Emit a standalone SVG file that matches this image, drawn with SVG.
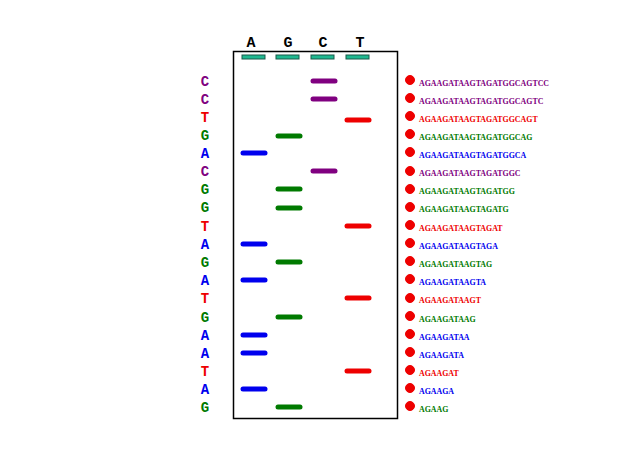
<svg xmlns="http://www.w3.org/2000/svg" width="638" height="452" viewBox="0 0 638 452">
<style>
.h{font-family:"Liberation Mono",monospace;font-weight:bold;font-size:15px;text-anchor:middle}
.l{font-family:"Liberation Mono",monospace;font-weight:bold;font-size:14px;text-anchor:middle}
.s{font-family:"Liberation Serif",serif;font-weight:bold;font-size:7.9px}
.w{fill:#20b890;stroke:#1a5a4a;stroke-width:1}
.b{stroke-width:5;stroke-linecap:round}
.A{fill:#0000ee;stroke:#0000ee}.G{fill:#007a00;stroke:#007a00}.C{fill:#800080;stroke:#800080}.T{fill:#ee0000;stroke:#ee0000}
text.A,text.G,text.C,text.T{stroke:none}
</style>
<rect width="638" height="452" fill="#fff"/>
<g id="gel">
<rect x="233.5" y="51.5" width="164" height="367" fill="none" stroke="#000" stroke-width="1.5"/>
<text class="h" x="251" y="47">A</text><text class="h" x="288" y="47">G</text><text class="h" x="323" y="47">C</text><text class="h" x="360" y="47">T</text>
<rect class="w" x="242" y="55" width="23" height="4"/><rect class="w" x="276" y="55" width="23" height="4"/><rect class="w" x="311" y="55" width="23" height="4"/><rect class="w" x="346" y="55" width="23" height="4"/>
</g>
<g id="rows">
<g id="r1"><text class="l C" x="205" y="86">C</text><line class="b C" x1="313" y1="81" x2="335" y2="81"/><circle class="T" cx="410" cy="80" r="4.5"/><text class="s C" x="419" y="86">AGAAGATAAGTAGATGGCAGTCC</text></g>
<g id="r2"><text class="l C" x="205" y="104">C</text><line class="b C" x1="313" y1="99" x2="335" y2="99"/><circle class="T" cx="410" cy="98" r="4.5"/><text class="s C" x="419" y="104">AGAAGATAAGTAGATGGCAGTC</text></g>
<g id="r3"><text class="l T" x="205" y="122">T</text><line class="b T" x1="347" y1="120" x2="369" y2="120"/><circle class="T" cx="410" cy="116" r="4.5"/><text class="s T" x="419" y="122">AGAAGATAAGTAGATGGCAGT</text></g>
<g id="r4"><text class="l G" x="205" y="140">G</text><line class="b G" x1="278" y1="136" x2="300" y2="136"/><circle class="T" cx="410" cy="134" r="4.5"/><text class="s G" x="419" y="140">AGAAGATAAGTAGATGGCAG</text></g>
<g id="r5"><text class="l A" x="205" y="158">A</text><line class="b A" x1="243" y1="153" x2="265" y2="153"/><circle class="T" cx="410" cy="152" r="4.5"/><text class="s A" x="419" y="158">AGAAGATAAGTAGATGGCA</text></g>
<g id="r6"><text class="l C" x="205" y="176">C</text><line class="b C" x1="313" y1="171" x2="335" y2="171"/><circle class="T" cx="410" cy="171" r="4.5"/><text class="s C" x="419" y="176">AGAAGATAAGTAGATGGC</text></g>
<g id="r7"><text class="l G" x="205" y="194">G</text><line class="b G" x1="278" y1="189" x2="300" y2="189"/><circle class="T" cx="410" cy="189" r="4.5"/><text class="s G" x="419" y="194">AGAAGATAAGTAGATGG</text></g>
<g id="r8"><text class="l G" x="205" y="212">G</text><line class="b G" x1="278" y1="208" x2="300" y2="208"/><circle class="T" cx="410" cy="207" r="4.5"/><text class="s G" x="419" y="212">AGAAGATAAGTAGATG</text></g>
<g id="r9"><text class="l T" x="205" y="231">T</text><line class="b T" x1="347" y1="226" x2="369" y2="226"/><circle class="T" cx="410" cy="225" r="4.5"/><text class="s T" x="419" y="231">AGAAGATAAGTAGAT</text></g>
<g id="r10"><text class="l A" x="205" y="249">A</text><line class="b A" x1="243" y1="244" x2="265" y2="244"/><circle class="T" cx="410" cy="243" r="4.5"/><text class="s A" x="419" y="249">AGAAGATAAGTAGA</text></g>
<g id="r11"><text class="l G" x="205" y="267">G</text><line class="b G" x1="278" y1="262" x2="300" y2="262"/><circle class="T" cx="410" cy="261" r="4.5"/><text class="s G" x="419" y="267">AGAAGATAAGTAG</text></g>
<g id="r12"><text class="l A" x="205" y="285">A</text><line class="b A" x1="243" y1="280" x2="265" y2="280"/><circle class="T" cx="410" cy="279" r="4.5"/><text class="s A" x="419" y="285">AGAAGATAAGTA</text></g>
<g id="r13"><text class="l T" x="205" y="303">T</text><line class="b T" x1="347" y1="298" x2="369" y2="298"/><circle class="T" cx="410" cy="298" r="4.5"/><text class="s T" x="419" y="303">AGAAGATAAGT</text></g>
<g id="r14"><text class="l G" x="205" y="322">G</text><line class="b G" x1="278" y1="317" x2="300" y2="317"/><circle class="T" cx="410" cy="316" r="4.5"/><text class="s G" x="419" y="322">AGAAGATAAG</text></g>
<g id="r15"><text class="l A" x="205" y="340">A</text><line class="b A" x1="243" y1="335" x2="265" y2="335"/><circle class="T" cx="410" cy="334" r="4.5"/><text class="s A" x="419" y="340">AGAAGATAA</text></g>
<g id="r16"><text class="l A" x="205" y="358">A</text><line class="b A" x1="243" y1="353" x2="265" y2="353"/><circle class="T" cx="410" cy="352" r="4.5"/><text class="s A" x="419" y="358">AGAAGATA</text></g>
<g id="r17"><text class="l T" x="205" y="376">T</text><line class="b T" x1="347" y1="371" x2="369" y2="371"/><circle class="T" cx="410" cy="370" r="4.5"/><text class="s T" x="419" y="376">AGAAGAT</text></g>
<g id="r18"><text class="l A" x="205" y="394">A</text><line class="b A" x1="243" y1="389" x2="265" y2="389"/><circle class="T" cx="410" cy="388" r="4.5"/><text class="s A" x="419" y="394">AGAAGA</text></g>
<g id="r19"><text class="l G" x="205" y="412">G</text><line class="b G" x1="278" y1="407" x2="300" y2="407"/><circle class="T" cx="410" cy="406" r="4.5"/><text class="s G" x="419" y="412">AGAAG</text></g>
</g>
</svg>
